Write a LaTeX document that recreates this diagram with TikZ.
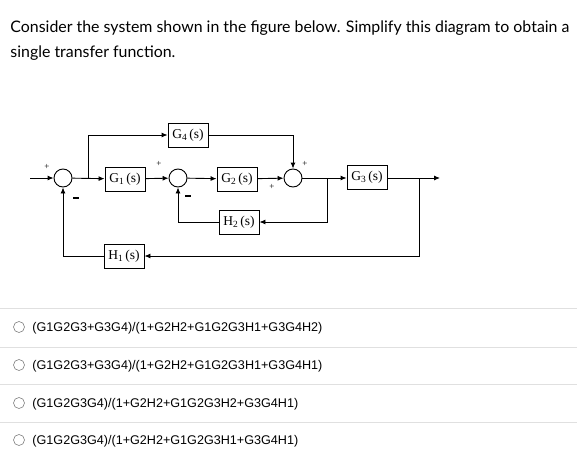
\documentclass[tikz,border=0pt]{standalone}
\usepackage{fontspec}
\setmainfont{Lato}
\newfontfamily\blockfont{Liberation Serif}
\newfontfamily\optfont{Liberation Sans}
\usetikzlibrary{arrows.meta}

\begin{document}
\begin{tikzpicture}[x=1pt, y=-1pt, >={Latex[length=6pt,width=5pt]}, line width=0.9pt]
        \tikzstyle{block}=[draw, minimum width=40pt, minimum height=24pt, inner sep=1pt, font=\blockfont\fontsize{13.5}{14}\selectfont]
        \tikzstyle{sum}=[circle, draw, minimum size=18pt, inner sep=0pt]
        \tikzstyle{sgn}=[inner sep=0pt, font=\blockfont\fontsize{9}{10}\selectfont]
        \tikzstyle{txt}=[anchor=base west, inner sep=0pt, font=\fontsize{15.9}{19}\selectfont]
        \tikzstyle{opt}=[anchor=base west, inner sep=0pt, font=\optfont\fontsize{12.6}{15}\selectfont]
        \tikzstyle{radio}=[circle, draw=gray, line width=0.6pt, minimum size=11pt, inner sep=0pt]
        \tikzstyle{sep}=[draw=black!12, line width=0.8pt]
        \useasboundingbox (0,0) rectangle (577,460);

        % Question
        \node[txt] (q1) at (10,33) {Consider the system shown in the figure below. Simplify this diagram to obtain a};
        \node[txt] (q2) at (10,57) {single transfer function.};

        % Nodes
        \coordinate (in) at (30,178);
        \node[sum] (s1) at (63,178) {};
        \node[block] (g1) at (125,179) {G\textsubscript{1}\,(s)};
        \node[sum] (s2) at (178,178) {};
        \node[block] (g2) at (237,179) {G\textsubscript{2}\,(s)};
        \node[sum] (s3) at (293,178) {};
        \node[block] (g3) at (367,177) {G\textsubscript{3}\,(s)};
        \coordinate (out) at (440,178);
        \node[block] (g4) at (188,135) {G\textsubscript{4}\,(s)};
        \node[block] (h2) at (239,222) {H\textsubscript{2}\,(s)};
        \node[block] (h1) at (124,256) {H\textsubscript{1}\,(s)};

        \coordinate (b1) at (88,178);
        \coordinate (b3) at (327,178);
        \coordinate (b4) at (419,178);

        % Signs
        \node[sgn] (p1) at (47,167) {+};
        \node[sgn] (m1) at (76,198) {\rule{6pt}{1.4pt}};
        \node[sgn] (p2) at (159,164) {+};
        \node[sgn] (m2) at (188,196) {\rule{6pt}{1.4pt}};
        \node[sgn] (p3) at (305,164) {+};
        \node[sgn] (p4) at (272,187) {+};

        % Edges
        \draw [->] (in) to (s1);
        \draw [->] (s1) to (g1);
        \draw [->] (g1) to (s2);
        \draw [->] (s2) to (g2);
        \draw [->] (g2) to (s3);
        \draw (s3) to (b3);
        \draw [->] (b3) to (g3.west |- b3);
        \draw [->] (g3.east |- b4) to (out);
        \draw [->] (b1) |- (g4);
        \draw [->] (g4) -| (s3);
        \draw [->] (b3) |- (h2);
        \draw [->] (h2) -| (s2);
        \draw [->] (b4) |- (h1);
        \draw [->] (h1) -| (s1);

        % Answers
        \draw[sep] (0,308) -- (577,308);
        \draw[sep] (0,347) -- (577,347);
        \draw[sep] (0,384) -- (577,384);
        \draw[sep] (0,422) -- (577,422);

        \node[radio] (r1) at (19,327) {};
        \node[radio] (r2) at (19,365) {};
        \node[radio] (r3) at (19,403) {};
        \node[radio] (r4) at (19,440) {};
        \node[opt] (a1) at (32,331.5) {(G1G2G3+G3G4)/(1+G2H2+G1G2G3H1+G3G4H2)};
        \node[opt] (a2) at (32,369.5) {(G1G2G3+G3G4)/(1+G2H2+G1G2G3H1+G3G4H1)};
        \node[opt] (a3) at (32,407.5) {(G1G2G3G4)/(1+G2H2+G1G2G3H2+G3G4H1)};
        \node[opt] (a4) at (32,444.5) {(G1G2G3G4)/(1+G2H2+G1G2G3H1+G3G4H1)};

\end{tikzpicture}
\end{document}
